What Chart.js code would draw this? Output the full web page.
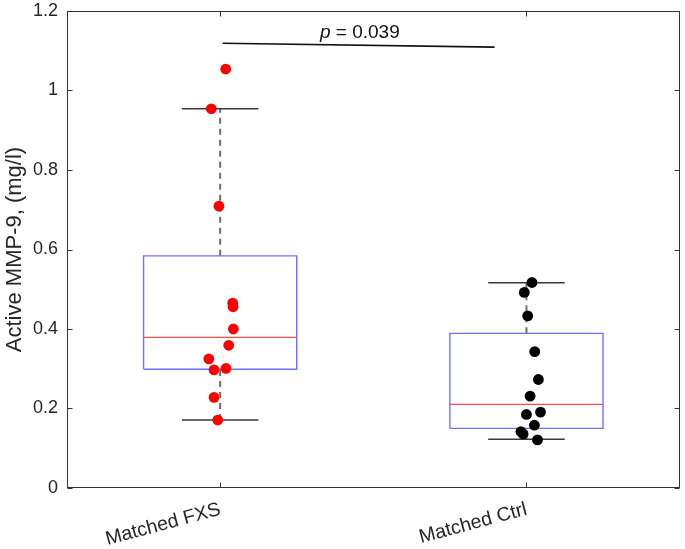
<!DOCTYPE html>
<html>
<head>
<meta charset="utf-8">
<script src="https://cdn.jsdelivr.net/npm/chart.js@4.4.1/dist/chart.umd.min.js"></script>
<style>
  html, body { margin: 0; padding: 0; background: #fff; }
  #wrap { width: 685px; height: 549px; }
</style>
</head>
<body>
<div id="wrap"><canvas id="chart" width="685" height="549"></canvas></div>
<script>
var categories = ['Matched FXS', 'Matched Ctrl'];
var catPos = [1, 2];
var yTicks = [0, 0.2, 0.4, 0.6, 0.8, 1, 1.2];

// individual subjects (value, and the jittered x position used in the plot)
var fxsValues = [1.054, 0.954, 0.709, 0.465, 0.456, 0.400, 0.359, 0.325, 0.297, 0.301, 0.228, 0.171];
var fxsJitter = [1.018, 0.971, 0.996, 1.041, 1.042, 1.043, 1.028, 0.963, 0.980, 1.019, 0.980, 0.992];
var ctrlValues = [0.517, 0.492, 0.433, 0.343, 0.273, 0.231, 0.191, 0.185, 0.158, 0.142, 0.136, 0.121];
var ctrlJitter = [2.018, 1.993, 2.004, 2.027, 2.039, 2.012, 2.046, 2.000, 2.026, 1.982, 1.989, 2.036];

// box stats: lower whisker, q1, median, q3, upper whisker
var fxsBox = [0.171, 0.2986, 0.379, 0.584, 0.954];
var ctrlBox = [0.1225, 0.150, 0.2105, 0.389, 0.5165];

// significance bar
var sigLineX = [1.008, 1.896];
var sigLineY = [1.119, 1.109];
var pLabelX = 1.456;
var pLabelY = 1.131;
var pValue = '0.039';

var FONT = '"Liberation Sans", Arial, Helvetica, sans-serif';
var TEXT = '#262626';

function seg(pts, color, width, dash, order) {
    return {
        data: pts,
        showLine: true,
        borderColor: color,
        borderWidth: width,
        borderDash: dash || [],
        pointRadius: 0,
        fill: false,
        tension: 0,
        order: order
    };
}

function boxSets(pos, s) {
    var hw = 0.25, cw = 0.125;
    return [
        seg([{x: pos, y: s[3]}, {x: pos, y: s[4]}], '#6e6e6e', 2, [6, 5], 5),
        seg([{x: pos, y: s[0]}, {x: pos, y: s[1]}], '#6e6e6e', 2, [6, 5], 5),
        seg([{x: pos - cw, y: s[4]}, {x: pos + cw, y: s[4]}], '#3a3a3a', 1.5, null, 4),
        seg([{x: pos - cw, y: s[0]}, {x: pos + cw, y: s[0]}], '#3a3a3a', 1.5, null, 4),
        seg([{x: pos - hw, y: s[1]}, {x: pos + hw, y: s[1]}, {x: pos + hw, y: s[3]},
             {x: pos - hw, y: s[3]}, {x: pos - hw, y: s[1]}], '#7070ff', 1.4, null, 3),
        seg([{x: pos - hw, y: s[2]}, {x: pos + hw, y: s[2]}], '#ff4a4a', 1.2, null, 3)
    ];
}

function pointSet(xs, ys, color) {
    return {
        data: ys.map(function (v, i) { return {x: xs[i], y: v}; }),
        pointRadius: 5.4,
        pointBackgroundColor: color,
        pointBorderWidth: 0,
        borderColor: color,
        showLine: false,
        order: 0
    };
}

var datasets = []
    .concat(boxSets(catPos[0], fxsBox))
    .concat(boxSets(catPos[1], ctrlBox))
    .concat([seg(sigLineX.map(function (x, i) { return {x: x, y: sigLineY[i]}; }), '#111', 1.6, null, 2)])
    .concat([pointSet(fxsJitter, fxsValues, '#ff0000'), pointSet(ctrlJitter, ctrlValues, '#000000')]);

var framePlugin = {
    id: 'frame',
    afterDatasetsDraw: function (chart) {
        var ctx = chart.ctx, a = chart.chartArea;
        var xs = chart.scales.x, ys = chart.scales.y;
        var L = Math.round(a.left) + 0.5, R = Math.round(a.right) - 0.5;
        var T = Math.round(a.top) + 0.5, B = Math.round(a.bottom) - 0.5;
        ctx.save();
        ctx.strokeStyle = '#333';
        ctx.lineWidth = 1;
        ctx.strokeRect(L, T, R - L, B - T);
        ctx.beginPath();
        yTicks.forEach(function (v) {
            var py = Math.round(ys.getPixelForValue(v)) + 0.5;
            ctx.moveTo(L, py); ctx.lineTo(L + 5, py);
            ctx.moveTo(R, py); ctx.lineTo(R - 5, py);
        });
        catPos.forEach(function (v) {
            var px = Math.round(xs.getPixelForValue(v)) + 0.5;
            ctx.moveTo(px, B); ctx.lineTo(px, B - 5);
            ctx.moveTo(px, T); ctx.lineTo(px, T + 5);
        });
        ctx.stroke();

        // p value label
        var cx = xs.getPixelForValue(pLabelX), cy = ys.getPixelForValue(pLabelY);
        ctx.fillStyle = '#111';
        ctx.textBaseline = 'alphabetic';
        ctx.textAlign = 'left';
        ctx.font = 'italic 19px ' + FONT;
        var w1 = ctx.measureText('p').width;
        ctx.font = '19px ' + FONT;
        var rest = ' = ' + pValue;
        var w2 = ctx.measureText(rest).width;
        var x0 = cx - (w1 + w2) / 2;
        ctx.font = 'italic 19px ' + FONT;
        ctx.fillText('p', x0, cy);
        ctx.font = '19px ' + FONT;
        ctx.fillText(rest, x0 + w1, cy);
        ctx.restore();
    }
};

var ctx = document.getElementById('chart');
var chart = new Chart(ctx, {
    type: 'scatter',
    data: { datasets: datasets },
    options: {
        responsive: false,
        animation: false,
        events: [],
        layout: { padding: { top: 11, right: 3, left: 0, bottom: 0 } },
        plugins: { legend: { display: false }, tooltip: { enabled: false } },
        scales: {
            x: {
                type: 'linear',
                min: 0.5,
                max: 2.5,
                grid: { display: false, drawTicks: false },
                border: { display: false },
                afterBuildTicks: function (s) {
                    s.ticks = catPos.map(function (v) { return {value: v}; });
                },
                afterFit: function (s) {
                    s.height = 61;
                    s.paddingLeft = 0;
                    s.paddingRight = 0;
                },
                ticks: {
                    minRotation: 15,
                    maxRotation: 15,
                    padding: 10,
                    color: TEXT,
                    font: { family: FONT, size: 19.5 },
                    callback: function (v) { return categories[catPos.indexOf(v)]; }
                }
            },
            y: {
                min: 0,
                max: 1.2,
                grid: { display: false, drawTicks: false },
                border: { display: false },
                afterBuildTicks: function (s) {
                    s.ticks = yTicks.map(function (v) { return {value: v}; });
                },
                afterFit: function (s) {
                    s.width = 67;
                    s.paddingTop = 0;
                    s.paddingBottom = 0;
                },
                ticks: {
                    padding: 9,
                    color: TEXT,
                    font: { family: FONT, size: 18 },
                    callback: function (v) { return String(+v.toFixed(1)); }
                },
                title: {
                    display: true,
                    text: 'Active MMP-9, (mg/l)',
                    color: TEXT,
                    padding: { top: 2, bottom: 0 },
                    font: { family: FONT, size: 22 }
                }
            }
        }
    },
    plugins: [framePlugin]
});
</script>
</body>
</html>
